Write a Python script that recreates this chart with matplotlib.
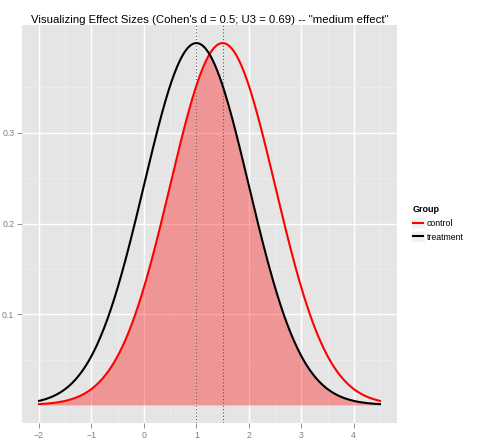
import numpy as np
import matplotlib
matplotlib.use("Agg")
import matplotlib.pyplot as plt
from matplotlib.legend_handler import HandlerLine2D
from matplotlib.patches import Rectangle

# data: two normal distributions, d = 0.5
groups = ["control", "treatment"]
means = [1.5, 1.0]
sds = [1.0, 1.0]
colors = ["#FF0000", "#000000"]
x_range = [-2, 4.5]
xticks = [-2, -1, 0, 1, 2, 3, 4]
yticks = [0.1, 0.2, 0.3]
title = "Visualizing Effect Sizes (Cohen's d = 0.5; U3 = 0.69) -- \"medium effect\""

plt.rcParams['font.family'] = ['Liberation Sans', 'DejaVu Sans']


def dnorm(x, mu, sd):
    return np.exp(-0.5 * ((x - mu) / sd) ** 2) / (sd * np.sqrt(2 * np.pi))


class KeyHandler(HandlerLine2D):
    # ggplot-like legend key with grey box behind the line
    def create_artists(self, legend, orig, xd, yd, width, height, fontsize, trans):
        box = Rectangle((xd - 1, yd - 2), width + 2, height + 4,
                        facecolor="#F2F2F2", edgecolor="white", lw=0.5, transform=trans)
        arts = super().create_artists(legend, orig, xd, yd, width, height, fontsize, trans)
        return [box] + arts


x = np.linspace(x_range[0], x_range[1], 500)
dens = [dnorm(x, m, s) for m, s in zip(means, sds)]

fig = plt.figure(figsize=(4.8, 4.41), dpi=100)
ax = fig.add_axes([22 / 480, 1 - 423 / 441, (397 - 22) / 480, (423 - 25) / 441])
ax.set_facecolor("#E5E5E5")

ax.fill_between(x, 0, np.minimum(dens[0], dens[1]), color="red", alpha=0.35, lw=0, zorder=2)
for mu in means:
    ax.axvline(mu, color="#555555", ls=(0, (1, 2)), lw=0.8, zorder=3)
for d, g, c in zip(dens, groups, colors):
    ax.plot(x, d, color=c, lw=1.5, label=g, zorder=4)

ymax = max(d.max() for d in dens)
span = x_range[1] - x_range[0]
ax.set_xlim(x_range[0] - 0.05 * span, x_range[1] + 0.05 * span)
ax.set_ylim(-0.05 * ymax, ymax * 1.05)

ax.set_xticks(xticks)
ax.set_yticks(yticks)
ax.set_xticks(np.arange(-1.5, 4.6, 1.0), minor=True)
ax.set_yticks([0.05, 0.15, 0.25, 0.35], minor=True)
ax.grid(which="major", color="white", lw=1.0, zorder=0)
ax.grid(which="minor", color="#EEEEEE", lw=0.5, zorder=0)
ax.set_axisbelow(True)
for s in ax.spines.values():
    s.set_visible(False)
ax.tick_params(which="major", length=3.5, width=0.6, color="#7F7F7F",
               labelcolor="#7F7F7F", labelsize=6.3, pad=2)
ax.tick_params(which="minor", length=0)

ax.set_title(title, fontsize=8.2, pad=0)

leg = ax.legend(loc="upper left", bbox_to_anchor=(405 / 480, 1 - 197 / 441),
                bbox_transform=fig.transFigure, frameon=False, title="Group",
                fontsize=6.3, handlelength=1.2, handletextpad=0.4, labelspacing=0.55,
                alignment="left", handler_map={plt.Line2D: KeyHandler()})
leg.get_title().set_fontweight("bold")
leg.get_title().set_fontsize(6.5)

fig.savefig("out.png", dpi=100)
